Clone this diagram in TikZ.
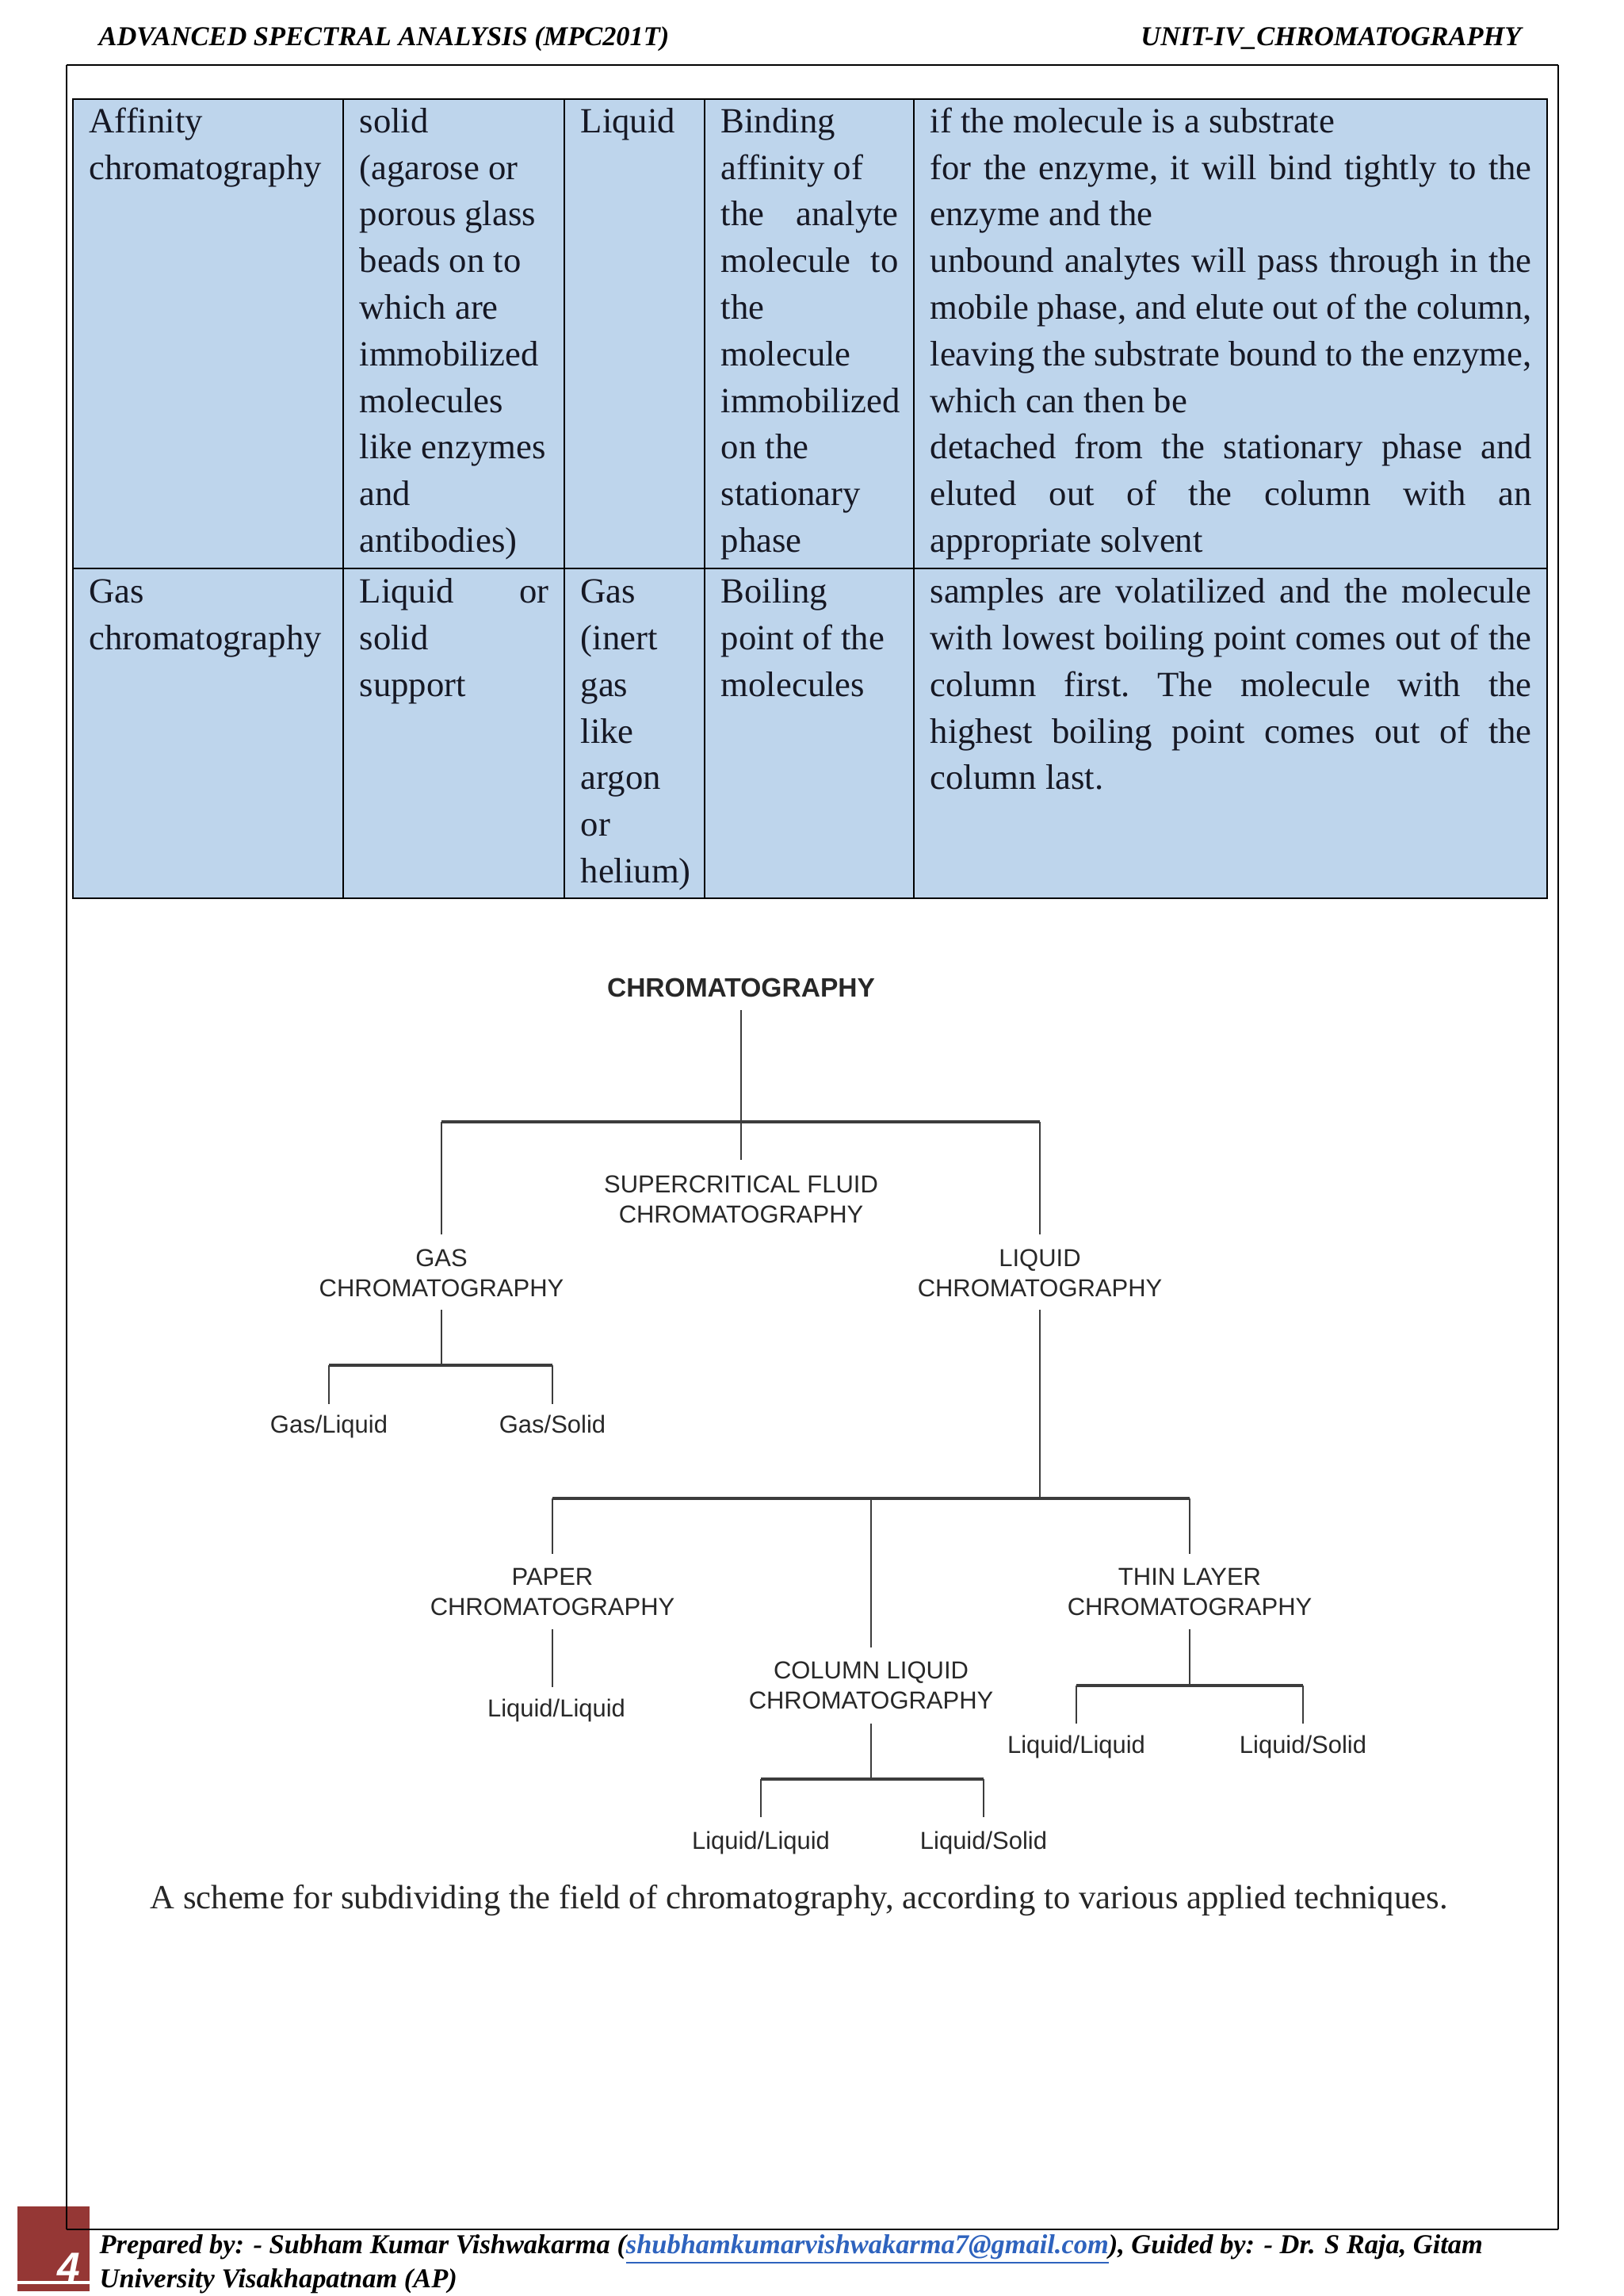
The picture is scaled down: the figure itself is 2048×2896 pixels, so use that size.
\documentclass[tikz,border=0pt]{standalone}
\usepackage{fontspec}
\setmainfont{Liberation Serif}
\newfontfamily\sansf{Liberation Sans}
\usetikzlibrary{calc}
\definecolor{tabblue}{RGB}{190,213,236}
\definecolor{tabtext}{RGB}{22,24,36}
\definecolor{treetext}{RGB}{40,40,40}
\definecolor{treeline}{RGB}{60,60,60}
\definecolor{redbox}{RGB}{149,55,53}
\definecolor{linkblue}{RGB}{46,99,190}
\protected\def\cellfont{\fontsize{13pt}{17.1pt}\selectfont}
\protected\def\cellsp{\frenchspacing\spaceskip=0.25em plus 0.4em minus 0.05em\relax}
\newcommand\jl[2]{\makebox[#1][s]{#2}}
\newcommand\cellbox[2]{\begin{minipage}[t]{#1}\raggedright\cellsp\strut #2\end{minipage}}
\begin{document}
\begin{tikzpicture}[x=0.29066pt,y=-0.29066pt,
  hdr/.style={inner sep=0, font=\bfseries\itshape\fontsize{10pt}{12pt}\selectfont},
  foot/.style={inner sep=0, font=\bfseries\itshape\fontsize{10pt}{12pt}\selectfont},
  tabline/.style={line width=0.6pt, black},
  cell/.style={anchor=north west, inner sep=0, text=tabtext, font=\cellfont},
  tlab/.style={anchor=base, inner sep=0, align=center, text=treetext,
    font=\sansf\fontsize{9pt}{11.05pt}\selectfont},
  tbold/.style={tlab, font=\sansf\bfseries\fontsize{9.75pt}{11.05pt}\selectfont},
  tline/.style={line width=0.5pt, treeline},
  tbar/.style={line width=1pt, treeline},
  capt/.style={inner sep=0, anchor=base west, text=black!85, font=\fontsize{12.4pt}{14pt}\selectfont}
]
\fill[white] (0,0) rectangle (2048,2896);
% page number box
\fill[redbox] (22,2783) rectangle (113,2877);
\fill[redbox] (22,2881) rectangle (113,2890);
% page frame
\draw[line width=0.35pt] (84,82) -- (84,2812);
\draw[line width=0.35pt] (1966,82) -- (1966,2812);
\draw[line width=0.8pt] (84,82) -- (1966,82);
\draw[line width=0.6pt] (84,2812) -- (1966,2812);
% header
\node[hdr, anchor=base west] (hl) at (124,57) {ADVANCED SPECTRAL ANALYSIS (MPC201T)};
\node[hdr, anchor=base east] (hr) at (1920,57) {UNIT-IV\_CHROMATOGRAPHY};
% table
\fill[tabblue] (92,125) rectangle (1952,1133);
\draw[tabline] (92,125) rectangle (1952,1133);
\draw[tabline] (92,717) -- (1952,717);
\foreach \x in {433,712,889,1153} \draw[tabline] (\x,125) -- (\x,1133);
% row 1
\node[cell] (a1) at (112,125.3) {\cellbox{87.5pt}{Affinity\\chromatography}};
\node[cell] (a2) at (453,125.3) {\cellbox{69.5pt}{solid\\(agarose or\\porous glass\\beads on to\\which are\\immobilized\\molecules\\like enzymes\\and\\antibodies)}};
\node[cell] (a3) at (732,125.3) {\cellbox{39.8pt}{Liquid}};
\node[cell] (a4) at (909,125.3) {\cellbox{65.1pt}{Binding\\affinity of\\\jl{65.1pt}{the analyte}\\\jl{65.1pt}{molecule to}\\the\\molecule\\immobilized\\on the\\stationary\\phase}};
\node[cell] (a5) at (1173,125.3) {\cellbox{220.6pt}{if the molecule is a substrate\\
\jl{220.6pt}{for the enzyme, it will bind tightly to the}\\
enzyme and the\\
\jl{220.6pt}{unbound analytes will pass through in the}\\
\jl{220.6pt}{mobile phase, and elute out of the column,}\\
\jl{220.6pt}{leaving the substrate bound to the enzyme,}\\
which can then be\\
\jl{220.6pt}{detached from the stationary phase and}\\
\jl{220.6pt}{eluted out of the column with an}\\
appropriate solvent}};
% row 2
\node[cell] (b1) at (112,718.8) {\cellbox{87.5pt}{Gas\\chromatography}};
\node[cell] (b2) at (453,718.8) {\cellbox{69.5pt}{\jl{69.5pt}{Liquid or}\\solid\\support}};
\node[cell] (b3) at (732,718.8) {\cellbox{39.8pt}{Gas\\(inert\\gas\\like\\argon\\or\\helium)}};
\node[cell] (b4) at (909,718.8) {\cellbox{65.1pt}{Boiling\\point of the\\molecules}};
\node[cell] (b5) at (1173,718.8) {\cellbox{220.6pt}{\jl{220.6pt}{samples are volatilized and the molecule}\\
\jl{220.6pt}{with lowest boiling point comes out of the}\\
\jl{220.6pt}{column first. The molecule with the}\\
\jl{220.6pt}{highest boiling point comes out of the}\\
column last.}};
% tree labels (base = last line)
\node[tbold] (root) at (935,1257) {CHROMATOGRAPHY};
\node[tlab] (sfc) at (935,1542) {SUPERCRITICAL FLUID\\CHROMATOGRAPHY};
\node[tlab] (gas) at (557,1635) {GAS\\CHROMATOGRAPHY};
\node[tlab] (liq) at (1312,1635) {LIQUID\\CHROMATOGRAPHY};
\node[tlab] (gl) at (415,1807) {Gas/Liquid};
\node[tlab] (gs) at (697,1807) {Gas/Solid};
\node[tlab] (pap) at (697,2037) {PAPER\\CHROMATOGRAPHY};
\node[tlab] (tlc) at (1501,2037) {THIN LAYER\\CHROMATOGRAPHY};
\node[tlab] (pll) at (702,2165) {Liquid/Liquid};
\node[tlab] (clc) at (1099,2155) {COLUMN LIQUID\\CHROMATOGRAPHY};
\node[tlab] (tll) at (1358,2211) {Liquid/Liquid};
\node[tlab] (tls) at (1644,2211) {Liquid/Solid};
\node[tlab] (cll) at (960,2332) {Liquid/Liquid};
\node[tlab] (cls) at (1241,2332) {Liquid/Solid};
% tree connectors
\coordinate (j0) at ($(root.base)+(0,158)$);
\draw[tline] ($(root.base)+(0,17)$) -- ($(sfc.base)+(0,-79)$);
\draw[tbar] (gas.base |- j0) -- (liq.base |- j0);
\draw[tline] (gas.base |- j0) -- ($(gas.base)+(0,-78)$);
\draw[tline] (liq.base |- j0) -- ($(liq.base)+(0,-78)$);
\coordinate (jg) at ($(gas.base)+(0,87)$);
\draw[tline] ($(gas.base)+(0,17)$) -- (jg);
\draw[tbar] (gl.base |- jg) -- (gs.base |- jg);
\draw[tline] (gl.base |- jg) -- ($(gl.base)+(0,-36)$);
\draw[tline] (gs.base |- jg) -- ($(gs.base)+(0,-36)$);
\coordinate (jl) at ($(liq.base)+(0,255)$);
\draw[tline] ($(liq.base)+(0,17)$) -- (jl);
\draw[tbar] (pap.base |- jl) -- (tlc.base |- jl);
\draw[tline] (pap.base |- jl) -- ($(pap.base)+(0,-77)$);
\draw[tline] (tlc.base |- jl) -- ($(tlc.base)+(0,-77)$);
\draw[tline] (clc.base |- jl) -- ($(clc.base)+(0,-77)$);
\draw[tline] ($(pap.base)+(0,18)$) -- ($(pap.base)+(0,91)$);
\coordinate (jt) at ($(tlc.base)+(0,89)$);
\draw[tline] ($(tlc.base)+(0,18)$) -- (jt);
\draw[tbar] (tll.base |- jt) -- (tls.base |- jt);
\draw[tline] (tll.base |- jt) -- ($(tll.base)+(0,-37)$);
\draw[tline] (tls.base |- jt) -- ($(tls.base)+(0,-37)$);
\coordinate (jc) at ($(clc.base)+(0,89)$);
\draw[tline] ($(clc.base)+(0,19)$) -- (jc);
\draw[tbar] (cll.base |- jc) -- (cls.base |- jc);
\draw[tline] (cll.base |- jc) -- ($(cll.base)+(0,-40)$);
\draw[tline] (cls.base |- jc) -- ($(cls.base)+(0,-40)$);
% caption
\node[capt] (cap) at (189,2407) {A scheme for subdividing the field of chromatography, according to various applied techniques.};
% footer
\node[foot, anchor=base west] (f1) at (125,2842) {Prepared by: - Subham Kumar Vishwakarma (\textcolor{linkblue}{\underline{shubhamkumarvishwakarma7@gmail.com}}), Guided by: - Dr. S Raja, Gitam};
\node[foot, anchor=base west] (f2) at (125,2885) {University Visakhapatnam (AP)};
\node[anchor=base, inner sep=0, text=white, font=\sansf\bfseries\itshape\fontsize{15pt}{15pt}\selectfont] (pg) at (87,2877) {4};
\end{tikzpicture}
\end{document}
